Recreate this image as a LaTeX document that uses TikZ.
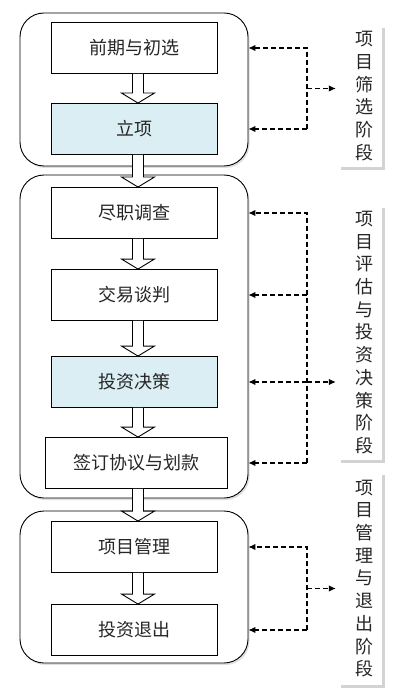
\documentclass[tikz,border=0pt]{standalone}
\usepackage{fontspec}
\setmainfont{Noto Sans CJK SC}
\usetikzlibrary{arrows,arrows.meta,calc,shadows,shapes}
\definecolor{keyfill}{HTML}{DAEEF3}

\begin{document}
\begin{tikzpicture}[x=1pt,y=-1pt,>={Latex[length=7pt,width=6.5pt]},thin]
\tikzstyle{every node}=[font=\fontsize{18}{22.7}\selectfont,text=black!85]
\tikzstyle{phase}=[draw,line width=0.9pt,rounded corners=24pt,fill=white,drop shadow={shadow xshift=1.5pt,shadow yshift=-2pt,opacity=0.25},minimum width=228pt,inner sep=0pt]
\tikzstyle{stepbox}=[draw,line width=0.9pt,fill=white,minimum width=166pt,minimum height=51pt,inner sep=0pt]
\tikzstyle{keybox}=[stepbox,fill=keyfill]
\tikzstyle{stage}=[fill=white,drop shadow={shadow xshift=3pt,shadow yshift=-3pt,opacity=0.35},minimum width=44pt,text width=1em,align=center,inner sep=0pt]
\tikzstyle{hollow}=[draw,line width=0.9pt,fill=white,to path={let \p1=(\tikztostart), \p2=(\tikztotarget) in (\x1-1.5pt,\y1) -- (\x1-1.5pt,\y2+10pt) -- (\x1-12.5pt,\y2+10pt) -- (\x1+4pt,\y2) -- (\x1+20.5pt,\y2+10pt) -- (\x1+9.5pt,\y2+10pt) -- (\x1+9.5pt,\y1)}]
\tikzstyle{link}=[->,dash pattern=on 5pt off 3pt,line width=1.1pt]

\useasboundingbox (0,0) rectangle (400,700);

% phases
\node[phase,minimum height=153pt] (ph1) at (134,89.5) {};
\node[phase,minimum height=323pt] (ph2) at (134,336.5) {};
\node[phase,minimum height=152pt] (ph3) at (134,587) {};

% steps
\node[stepbox]      (a)         at (134,48) {前期与初选};
\node[keybox]       (b) [below of=a,node distance=81pt] {立项};
\node[stepbox]      (c) [below of=b,node distance=84pt] {尽职调查};
\node[stepbox]      (d) [below of=c,node distance=82pt] {交易谈判};
\node[keybox]       (e) [below of=d,node distance=87pt] {投资决策};
\node[stepbox,minimum width=182pt] (f) at (136,463) {签订协议与划款};
\node[stepbox]      (g) [below of=f,node distance=84pt,xshift=-2pt] {项目管理};
\node[stepbox]      (h) [below of=g,node distance=83pt] {投资退出};

% stage labels
\node[stage,minimum height=142pt] (lab1) at (360,96) {项\\目\\筛\\选\\阶\\段};
\node[stage,minimum height=255pt] (lab2) at (360,332.5) {项\\目\\评\\估\\与\\投\\资\\决\\策\\阶\\段};
\node[stage,minimum height=213pt] (lab3) at (360,578.5) {项\\目\\管\\理\\与\\退\\出\\阶\\段};

\coordinate (bus) at (307,0);

\path[hollow] (a.south) to (b.north);
\path[hollow] (b.south) to (c.north);
\path[hollow] (c.south) to (d.north);
\path[hollow] (d.south) to (e.north);
\path[hollow] (e.south) to (f.north);
\path[hollow] ($(f.south)+(-2,0)$) to (g.north);
\path[hollow] (g.south) to (h.north);

% dashed links
\draw[link] (bus |- b) -- (bus |- a) -- (a -| ph1.east);
\draw[link] (bus |- b) -- (b -| ph1.east);
\coordinate (m1) at ($(bus |- a)!0.5!(bus |- b)$);
\draw[link,shorten >=2pt] (m1) -- (m1 -| lab1.west);

\draw[link] (bus |- f) -- (bus |- c) -- (c -| ph2.east);
\draw[link] (bus |- d) -- (d -| ph2.east);
\draw[link] (bus |- e) -- (e -| ph2.east);
\draw[link] (bus |- f) -- (f -| ph2.east);
\draw[link,shorten >=2pt] (bus |- e) -- (e -| lab2.west);

\draw[link] (bus |- h) -- (bus |- g) -- (g -| ph3.east);
\draw[link] (bus |- h) -- (h -| ph3.east);
\coordinate (m3) at ($(bus |- g)!0.5!(bus |- h)$);
\draw[link,shorten >=2pt] (m3) -- (m3 -| lab3.west);
\end{tikzpicture}
\end{document}
